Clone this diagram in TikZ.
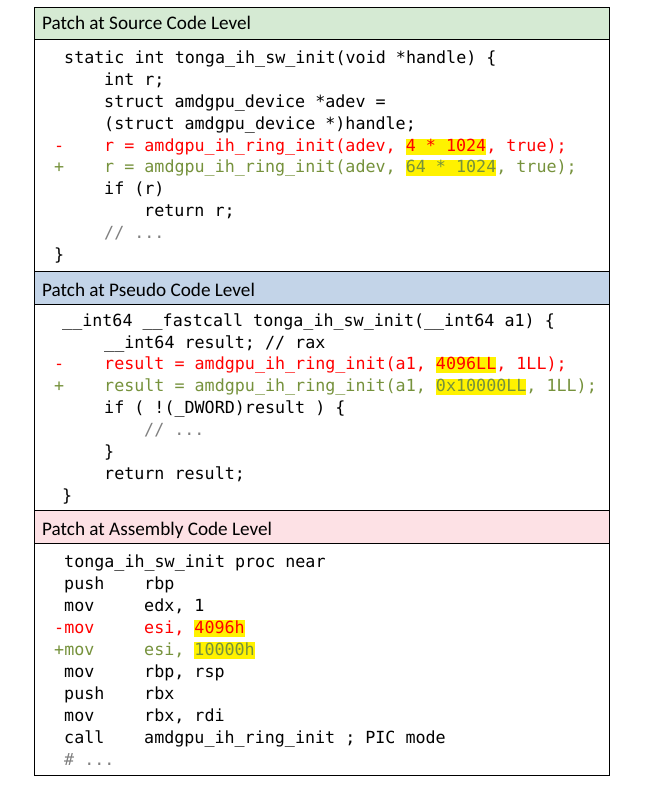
\documentclass[tikz,border=0pt]{standalone}
\usepackage{fontspec}
\usepackage{xcolor}
\setmainfont{Carlito}
\newfontfamily\codefont{DejaVu Sans Mono}
\definecolor{addg}{HTML}{76923C}
\definecolor{hgreen}{HTML}{D5EAD3}
\definecolor{hblue}{HTML}{C3D4E8}
\definecolor{hpink}{HTML}{FDE1E5}
\definecolor{cmt}{HTML}{808080}
\newcommand{\hl}[1]{{\setlength{\fboxsep}{0pt}\colorbox{yellow}{\vphantom{Ag}#1}}}
\begin{document}
\begin{tikzpicture}[x=1pt,y=-1pt,
  code/.style={anchor=base west,inner sep=0pt,font=\codefont\fontsize{16.7}{18}\selectfont},
  head/.style={anchor=base west,inner sep=0pt,font=\fontsize{19.2}{22}\selectfont},
  frame/.style={draw=black,line width=1pt}]
\useasboundingbox (0,0) rectangle (652,812);
\fill[white] (0,0) rectangle (652,812);
\filldraw[frame,fill=hgreen] (34,7) rectangle (609,39);
\draw[frame] (34,39) rectangle (609,271);
\filldraw[frame,fill=hblue] (34,271) rectangle (609,304);
\draw[frame] (34,304) rectangle (609,510);
\filldraw[frame,fill=hpink] (34,510) rectangle (609,543);
\draw[frame] (34,543) rectangle (609,775);
\node[head] (h1) at (42,29) {Patch at Source Code Level};
\node[head] (h2) at (42,296) {Patch at Pseudo Code Level};
\node[head] (h3) at (42,535) {Patch at Assembly Code Level};
% section 1
\node[code] (s1) at (64,63) {static int tonga\_ih\_sw\_init(void *handle) \{};
\node[code] (s2) at (104,85) {int r;};
\node[code] (s3) at (104,107) {struct amdgpu\_device *adev =};
\node[code] (s4) at (104,129) {(struct amdgpu\_device *)handle;};
\node[code,text=red] (s5m) at (54,151) {-};
\node[code,text=red] (s5) at (104,151) {r = amdgpu\_ih\_ring\_init(adev, \hl{4 * 1024}, true);};
\node[code,text=addg] (s6p) at (54,172) {+};
\node[code,text=addg] (s6) at (104,172) {r = amdgpu\_ih\_ring\_init(adev, \hl{64 * 1024}, true);};
\node[code] (s7) at (104,194) {if (r)};
\node[code] (s8) at (144,216) {return r;};
\node[code,text=cmt] (s9) at (104,238) {// ...};
\node[code] (s10) at (54,260) {\}};
% section 2
\node[code] (p1) at (62,326) {\_\_int64 \_\_fastcall tonga\_ih\_sw\_init(\_\_int64 a1) \{};
\node[code] (p2) at (104,348) {\_\_int64 result; // rax};
\node[code,text=red] (p3m) at (54,369) {-};
\node[code,text=red] (p3) at (104,369) {result = amdgpu\_ih\_ring\_init(a1, \hl{4096LL}, 1LL);};
\node[code,text=addg] (p4p) at (54,391) {+};
\node[code,text=addg] (p4) at (104,391) {result = amdgpu\_ih\_ring\_init(a1, \hl{0x10000LL}, 1LL);};
\node[code] (p5) at (104,413) {if ( !(\_DWORD)result ) \{};
\node[code,text=cmt] (p6) at (144,435) {// ...};
\node[code] (p7) at (104,457) {\}};
\node[code] (p8) at (104,479) {return result;};
\node[code] (p9) at (62,501) {\}};
% section 3
\node[code] (a1) at (64,567) {tonga\_ih\_sw\_init proc near};
\node[code] (a2) at (64,589) {push};
\node[code] (a2b) at (144,589) {rbp};
\node[code] (a3) at (64,611) {mov};
\node[code] (a3b) at (144,611) {edx, 1};
\node[code,text=red] (a4) at (54,633) {-mov};
\node[code,text=red] (a4b) at (144,633) {esi, \hl{4096h}};
\node[code,text=addg] (a5) at (54,655) {+mov};
\node[code,text=addg] (a5b) at (144,655) {esi, \hl{10000h}};
\node[code] (a6) at (64,677) {mov};
\node[code] (a6b) at (144,677) {rbp, rsp};
\node[code] (a7) at (64,699) {push};
\node[code] (a7b) at (144,699) {rbx};
\node[code] (a8) at (64,721) {mov};
\node[code] (a8b) at (144,721) {rbx, rdi};
\node[code] (a9) at (64,743) {call};
\node[code] (a9b) at (144,743) {amdgpu\_ih\_ring\_init ; PIC mode};
\node[code,text=cmt] (a10) at (64,765) {\# ...};
\end{tikzpicture}
\end{document}
